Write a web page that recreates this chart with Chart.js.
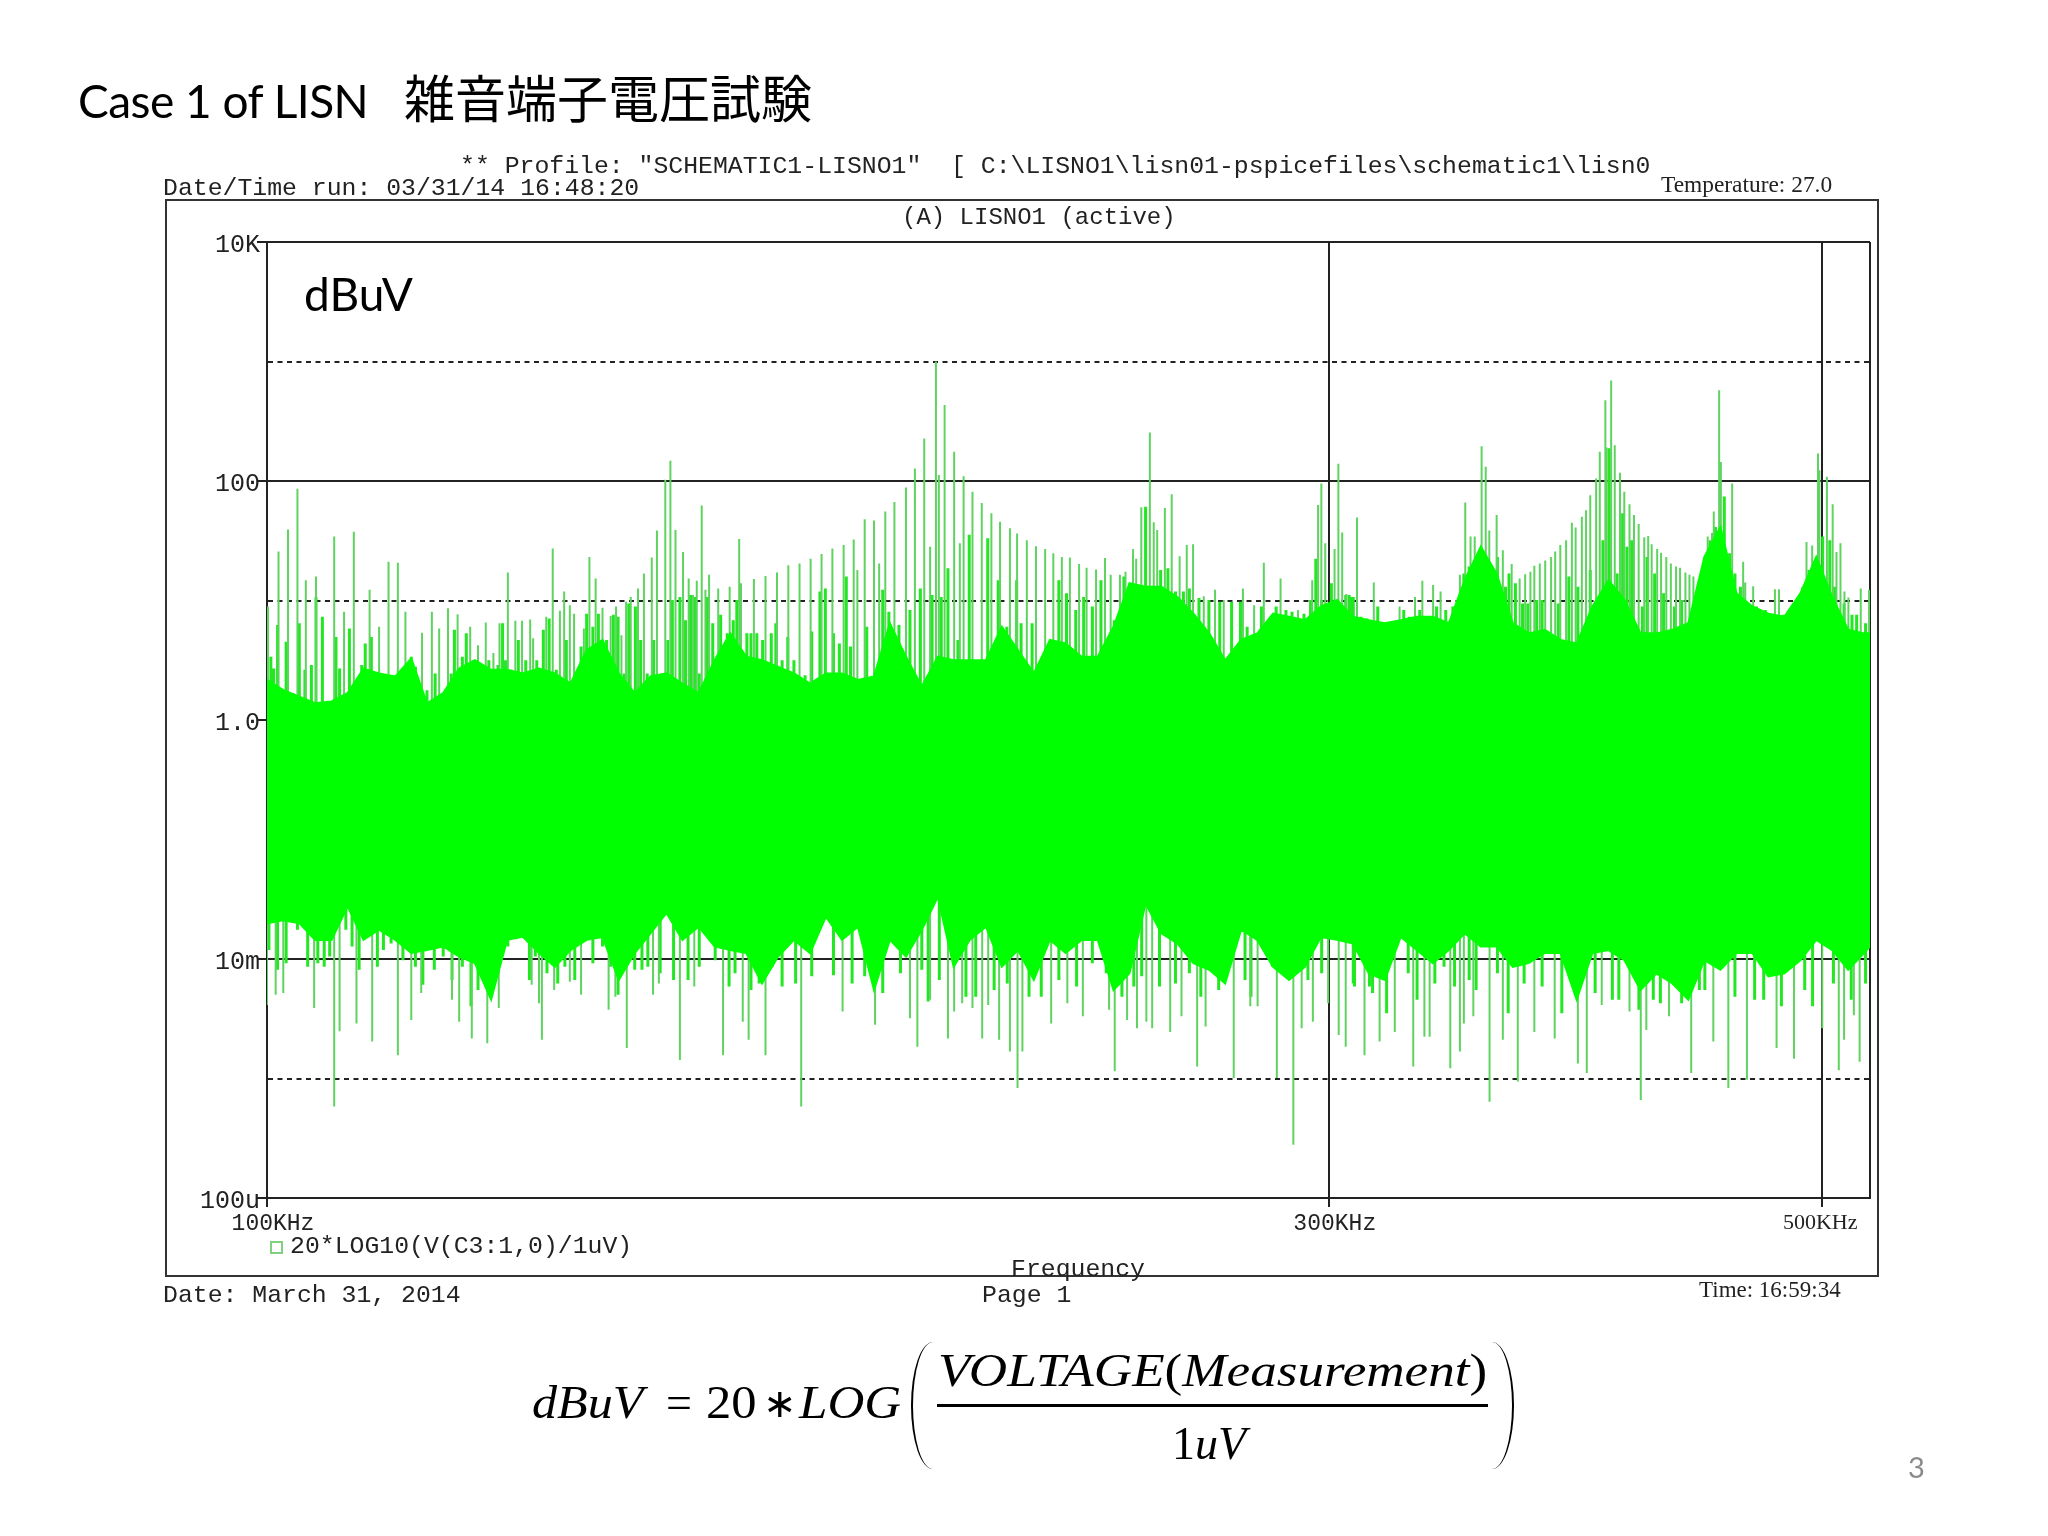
<!DOCTYPE html>
<html>
<head>
<meta charset="utf-8">
<title>Case 1 of LISN</title>
<script src="https://cdn.jsdelivr.net/npm/chart.js@4"></script>
<style>
  html, body { margin: 0; background: #fff; }
  #page { position: relative; width: 2048px; height: 1536px; overflow: hidden; }
  canvas { position: absolute; left: 0; top: 0; }
  .t { position: absolute; white-space: pre; transform: translateY(-50%); color: #222; line-height: 1; }
  .mono { font: 24.8px "Liberation Mono", monospace; }
  .serif { font: 23.4px "Liberation Serif", serif; }
  .slide { font-family: Lato, sans-serif; color: #000; }
  .math { font: italic 46px "Liberation Serif", serif; color: #000; transform-origin: left center; }
  .up { font-style: normal; }
  #box { position: absolute; left: 165px; top: 199px; width: 1714px; height: 1078px; border: 2px solid #333; box-sizing: border-box; }
  #key { position: absolute; left: 270px; top: 1241px; width: 9px; height: 9px; border: 2px solid #7fd07f; }
  #rule { position: absolute; left: 937px; top: 1404px; width: 551px; height: 3px; background: #000; }
  .paren { position: absolute; top: 1342px; width: 44px; height: 127px; border-radius: 50%; box-sizing: border-box; }
</style>
</head>
<body>
<div id="page">
  <div id="box"></div>
  <canvas id="lisnChart" width="2048" height="1536"></canvas>

  <div class="t slide" style="left:78px;top:101px;font-size:46px;letter-spacing:-0.5px">Case 1 of LISN</div>
  <div class="t" style="left:404px;top:96px;font:51px 'Noto Sans CJK JP';color:#000">雑音端子電圧試験</div>

  <div class="t mono" style="left:460px;top:166px">** Profile: "SCHEMATIC1-LISNO1"  [ C:\LISNO1\lisn01-pspicefiles\schematic1\lisn0</div>
  <div class="t mono" style="left:163px;top:188px">Date/Time run: 03/31/14 16:48:20</div>
  <div class="t serif" style="left:1661px;top:184px">Temperature: 27.0</div>
  <div class="t mono" style="left:902px;top:217px;font-size:24px">(A) LISNO1 (active)</div>
  <div class="t slide" style="left:304px;top:294px;font-size:46px">dBuV</div>

  <div id="key"></div>
  <div class="t mono" style="left:290px;top:1246px">20*LOG10(V(C3:1,0)/1uV)</div>
  <div class="t mono" style="left:1011px;top:1269px">Frequency</div>
  <div class="t mono" style="left:163px;top:1295px">Date: March 31, 2014</div>
  <div class="t mono" style="left:982px;top:1295px">Page 1</div>
  <div class="t serif" style="left:1699px;top:1290px;font-size:23px">Time: 16:59:34</div>

  <div class="t math" style="left:532px;top:1402px;transform:translateY(-50%) scaleX(1.09)">dBuV</div>
  <div class="t math up" style="left:666px;top:1402px">=</div>
  <div class="t math up" style="left:706px;top:1402px;transform:translateY(-50%) scaleX(1.1)">20</div>
  <div class="t math up" style="left:763px;top:1403px;font-size:40px">∗</div>
  <div class="t math" style="left:799px;top:1402px;transform:translateY(-50%) scaleX(1.11)">LOG</div>
  <div class="paren" style="left:911px;border-left:2px solid #000"></div>
  <div class="t math" style="left:938px;top:1370px;transform:translateY(-50%) scaleX(1.155)">VOLTAGE<span class="up">(</span>Measurement<span class="up">)</span></div>
  <div id="rule"></div>
  <div class="t math" style="left:1172px;top:1443px"><span class="up">1</span>uV</div>
  <div class="paren" style="left:1470px;border-right:2px solid #000"></div>

  <div class="t slide" style="left:1908px;top:1466px;font-size:29px;color:#8a8a8a">3</div>
</div>

<script>
// axis ticks
const yTickValues = [1e-4, 1e-3, 1e-2, 1e-1, 1, 10, 100, 1000, 10000];
const yTickLabels = ['100u', '', '10m', '', '1.0', '', '100', '', '10K'];
const xTickValues = [100, 300, 500, 525.2];
const xTickLabels = ['100KHz', '300KHz', '500KHz   ', ''];

// solid band of the trace, kHz and dB relative to the 1.0 line
const bandFreq = [
  100, 101.7, 103.4, 105.1, 106.9, 108.7, 110.5, 112.3, 114.2, 116.1, 118.0, 120.0, 122.0, 124.0, 126.1, 128.2, 130.3,
  132.5, 134.7, 136.9, 139.2, 141.5, 143.9, 146.3, 148.7, 151.2, 153.7, 156.3, 158.9, 161.5, 164.2, 166.9, 169.7,
  172.5, 175.4, 178.3, 181.3, 184.3, 187.4, 190.5, 193.7, 196.9, 200.2, 203.5, 206.9, 210.4, 213.9, 217.5, 221.1,
  224.8, 228.5, 232.3, 236.2, 240.1, 244.1, 248.2, 252.3, 256.5, 260.8, 265.1, 269.5, 274.0, 278.6, 283.2, 287.9,
  292.7, 297.6, 302.6, 307.6, 312.7, 317.9, 323.2, 328.6, 334.1, 339.7, 345.3, 351.1, 356.9, 362.9, 368.9, 375.1,
  381.3, 387.7, 394.1, 400.7, 407.4, 414.2, 421.1, 428.1, 435.2, 442.5, 449.9, 457.4, 465.0, 472.8, 480.7, 488.7,
  496.8, 505.1, 513.5, 522.0, 525.2
];
const bandTopDb = [
  6.7, 5.0, 3.9, 2.8, 3.1, 4.5, 8.6, 7.8, 7.3, 10.3, 2.8, 4.5, 8.6, 10.0, 8.4, 8.4, 7.8,
  8.6, 7.8, 6.1, 11.7, 13.4, 7.8, 4.5, 7.3, 7.8, 6.1, 4.5, 10.0, 14.5, 10.6, 10.0, 8.9,
  7.8, 6.1, 7.8, 7.8, 6.7, 7.3, 16.2, 10.6, 5.6, 10.6, 10.0, 10.0, 10.0, 15.6, 11.7, 7.8,
  13.4, 12.8, 10.6, 10.6, 15.6, 22.9, 22.3, 22.3, 20.6, 17.8, 14.5, 10.0, 13.4, 14.5, 17.8, 17.3,
  16.7, 19.0, 20.1, 17.3, 16.7, 16.2, 16.7, 17.3, 17.3, 16.2, 23.4, 29.0, 24.5, 16.2, 14.5, 15.1,
  13.4, 12.8, 19.0, 23.4, 20.1, 14.5, 14.5, 15.1, 16.2, 27.3, 32.3, 21.2, 19.0, 17.8, 17.3, 21.2,
  27.3, 20.6, 15.1, 14.5, 14.5
];
const bandBottomDb = [
  -34.0, -33.5, -34.0, -36.8, -36.8, -31.2, -36.8, -35.1, -36.8, -39.0, -38.5, -37.9, -39.6, -40.7, -46.8, -36.8, -36.3,
  -39.0, -41.3, -38.5, -36.8, -36.3, -43.5, -39.0, -35.7, -32.3, -36.8, -34.6, -37.9, -38.5, -39.0, -44.1, -39.6,
  -36.8, -39.0, -32.9, -36.8, -34.6, -45.2, -36.8, -39.6, -35.1, -29.6, -41.3, -36.8, -34.6, -41.3, -38.5, -43.5,
  -36.8, -39.0, -36.8, -36.8, -45.2, -42.4, -30.7, -35.7, -37.4, -40.7, -41.8, -44.1, -35.1, -36.8, -41.3, -43.5,
  -41.3, -36.3, -36.8, -37.4, -42.4, -43.5, -36.3, -38.5, -40.7, -38.5, -35.7, -37.9, -37.9, -41.3, -40.7, -39.0,
  -39.0, -46.8, -39.0, -38.5, -40.2, -45.2, -42.4, -44.1, -46.8, -40.2, -41.8, -39.0, -39.0, -42.9, -42.4, -40.2,
  -36.8, -38.5, -41.8, -39.0, -37.9
];

// single harmonics sticking out above the band
const peakFreq = [
  100.1, 101.2, 102.2, 103.2, 104.1, 105.2, 107.2, 108.3, 109.4, 111.2, 112.3, 113.4, 114.5, 115.4, 117.4, 118.6,
  119.5, 120.6, 121.8, 123.4, 124.4, 125.4, 126.4, 127.2, 128.3, 129.3, 130.2, 131.3, 131.7, 133.5, 134.4, 135.4,
  136.0, 136.8, 137.4, 138.8, 139.6, 140.5, 141.5, 142.7, 143.5, 144.3, 145.0, 145.7, 146.8, 147.7, 148.9, 149.7,
  151.0, 151.8, 152.6, 153.8, 154.7, 155.4, 156.0, 156.8, 157.4, 158.0, 159.5, 161.4, 163.0, 163.3, 165.5,
  167.5, 169.5, 171.5, 173.5, 175.5, 177.5, 179.5, 181.6, 183.5, 184.2, 185.6, 187.4, 188.4, 189.6, 191.4, 193.7,
  195.5, 197.4, 198.6, 199.8, 200.4, 201.6, 203.6, 204.8, 205.6, 207.5, 209.5, 211.6, 213.5, 215.7, 217.3, 219.5,
  221.6, 223.7, 225.6, 227.6, 229.5, 231.7, 233.5, 235.8, 238.0, 239.4, 241.7, 243.1, 245.0, 245.8, 247.1, 249.3,
  250.3, 251.2, 253.2, 255.0, 257.1, 259.0, 260.7, 263.6, 266.7, 269.1, 274.5, 277.7, 280.5, 285.4, 290.6, 294.9,
  296.7, 297.7, 298.9, 301.8, 303.0, 304.2, 305.5, 308.9, 314.3,
  322.8, 328.0, 330.5, 334.2, 336.8, 343.6, 345.5, 347.4, 348.9, 351.4, 352.9, 354.2, 356.9, 359.2, 362.5, 365.5,
  367.6, 369.6, 371.1, 373.2, 375.3, 377.6, 379.2, 381.2, 383.5, 385.8, 387.3, 389.8, 391.5, 393.2, 395.6, 397.1,
  399.4, 399.9, 401.8, 403.3, 405.5, 407.3, 409.5, 411.4, 413.4, 415.8, 417.5, 419.0, 421.4, 423.1, 425.4, 427.4,
  429.7, 431.5, 433.9, 435.7, 437.5, 439.9, 444.0, 446.0, 446.8, 449.3, 450.1, 455.4, 460.6, 461.6, 465.4, 476.0,
  478.0, 491.8, 494.7, 497.7, 498.4, 502.3, 505.3, 507.3, 509.4, 511.5, 513.6, 520.2, 524.7
];
const peakDb = [
  19.0, 28.2, 31.9, 38.7, 23.4, 24.0, 30.7, 18.1, 31.5, 21.8, 15.6, 26.5, 26.3, 18.1, 14.6, 18.1,
  15.3, 18.7, 17.7, 15.6, 12.5, 16.3, 11.2, 16.2, 24.7, 16.6, 16.6, 16.8, 13.7, 17.3, 28.7, 18.3,
  21.5, 19.2, 17.8, 15.3, 27.3, 23.7, 18.8, 17.4, 19.0, 14.2, 19.8, 20.6, 22.0, 24.5, 27.2, 31.7,
  40.2, 43.4, 31.8, 28.1, 23.7, 20.9, 23.3, 35.9, 21.8, 24.3, 22.0, 22.3, 30.3, 22.9, 23.6,
  24.1, 24.7, 25.9, 26.2, 27.0, 27.8, 28.7, 29.3, 30.2, 25.1, 33.6, 33.4, 26.2, 34.9, 36.5, 38.9,
  42.1, 47.1, 29.0, 60.0, 41.0, 52.7, 44.9, 29.6, 40.8, 38.2, 36.3, 34.6, 33.2, 32.1, 31.2, 30.1,
  29.1, 28.6, 27.9, 27.3, 27.2, 26.1, 25.5, 25.2, 27.1, 24.3, 24.3, 24.8, 28.6, 27.0, 35.6, 48.1,
  33.1, 31.8, 35.5, 37.8, 27.4, 29.3, 29.4, 20.7, 21.8, 20.1, 22.0, 19.2, 26.3, 23.7, 18.4, 23.4,
  36.0, 39.6, 29.6, 28.6, 42.9, 31.4, 21.1, 33.9, 23.0,
  19.0, 20.6, 23.3, 22.6, 21.5, 24.3, 36.4, 30.7, 30.7, 45.8, 42.4, 31.7, 34.3, 28.4, 26.1, 23.7,
  24.4, 24.8, 25.8, 26.2, 26.7, 27.3, 28.2, 29.3, 30.1, 33.0, 32.2, 34.0, 35.1, 37.6, 40.4, 44.9,
  53.5, 45.6, 56.8, 46.0, 41.4, 38.2, 36.1, 34.3, 32.8, 30.6, 30.8, 29.4, 28.6, 28.0, 27.3, 26.2,
  25.7, 25.5, 24.7, 24.3, 24.0, 23.3, 30.7, 31.3, 34.9, 55.2, 43.2, 39.6, 26.5, 23.0, 22.4, 21.9,
  21.9, 29.8, 29.2, 44.6, 41.8, 40.7, 36.1, 28.1, 29.6, 21.5, 20.5, 22.0, 21.8
];

// lower, denser strokes along the top edge of the band
const ridgeFreq = [
  100.4, 100.7, 101.1, 102.0, 102.7, 103.4, 104.0, 104.7, 105.2, 105.9, 106.6, 107.4, 107.8, 108.9, 109.6, 110.3,
  110.7, 111.4, 111.9, 112.8, 113.8, 115.0, 116.1, 116.6, 118.0, 119.0, 120.2, 121.0, 121.4, 122.4, 122.9, 123.8,
  124.8, 125.8, 127.0, 127.6, 128.0, 128.8, 129.7, 130.7, 132.2, 133.1, 133.9, 134.9, 136.3, 138.0, 138.4, 139.2,
  140.1, 140.9, 142.1, 143.1, 143.8, 144.7, 145.4, 146.4, 147.2, 148.2, 149.2, 150.5, 151.4, 152.1, 153.3, 154.2,
  155.0, 155.8, 156.4, 157.7, 158.6, 159.9, 161.0, 162.0, 162.6, 164.3, 165.0, 166.0, 167.0,
  168.5, 169.3, 170.4, 171.4, 172.5, 174.5, 175.7, 177.2, 178.2, 179.7, 180.8, 182.1, 182.9, 184.9, 186.0, 189.1,
  190.3, 192.3, 194.5, 196.6, 199.0, 200.9, 202.3, 204.4, 206.8, 210.8, 213.1, 215.0, 217.2, 218.2, 220.7, 225.0,
  226.9, 228.7, 230.9, 232.8, 234.9, 237.0, 240.3, 242.7, 244.2, 248.2, 252.1, 254.0, 256.0, 258.1, 259.7, 262.3,
  265.0, 268.0, 271.3, 273.8, 275.7, 279.8, 282.4, 284.1, 287.0, 288.8, 292.4, 294.4, 296.0, 297.8, 300.8, 306.4,
  307.7, 310.2, 312.1,
  305.3, 307.0, 312.1, 315.6, 317.6, 319.7, 321.5, 324.2, 326.0, 329.6, 332.4, 335.4, 338.6, 341.1, 345.0, 346.9,
  350.0, 355.2, 357.2, 360.2, 361.5, 363.9, 366.6, 368.6, 372.0, 374.1, 380.4, 384.6, 388.2, 393.2, 398.4, 400.9,
  404.3, 406.6, 408.4, 410.4, 415.0, 417.0, 420.3, 424.2, 429.0, 432.2, 441.4, 442.6, 445.1, 447.6, 451.7, 454.2,
  456.7, 459.3, 462.7, 467.0, 471.3, 475.2, 480.1, 484.0, 487.3, 490.0, 493.1, 500.1, 503.8, 506.3, 511.3, 515.5,
  518.0, 522.8
];
const ridgeDb = [
  10.6, 8.6, 15.9, 13.1, 4.5, 16.2, 8.4, 9.2, 20.6, 17.3, 2.8, 13.9, 8.6, 15.3, 5.0, 9.2,
  12.8, 13.9, 3.9, 5.3, 7.3, 7.8, 10.6, 8.9, 5.0, 7.8, 3.9, 7.8, 15.1, 10.6, 14.5, 10.0,
  9.2, 10.0, 9.2, 16.2, 10.0, 8.4, 13.4, 10.0, 10.0, 15.1, 17.0, 8.4, 13.4, 7.8, 12.3, 17.8,
  15.6, 17.8, 13.4, 17.6, 17.3, 7.8, 19.5, 19.0, 13.4, 7.8, 13.4, 7.8, 13.4, 20.1, 20.6, 16.7,
  20.9, 20.6, 7.8, 20.6, 16.2, 17.6, 14.5, 16.7, 20.1, 14.5, 14.5, 14.5, 13.4,
  14.5, 16.2, 10.0, 13.9, 10.0, 7.5, 14.8, 21.5, 22.0, 14.5, 12.8, 24.0, 12.3, 6.7, 15.6, 21.8,
  18.1, 15.9, 18.4, 22.0, 20.9, 20.6, 25.4, 13.4, 31.0, 30.4, 23.4, 15.6, 23.4, 16.2, 16.2, 13.4,
  23.4, 21.2, 18.4, 20.6, 19.0, 23.4, 16.7, 24.0, 22.9, 35.7, 25.1, 25.4, 21.5, 21.5, 22.0, 20.4,
  20.1, 19.8, 19.8, 19.8, 15.6, 19.0, 17.3, 19.0, 18.4, 18.1, 17.8, 20.1, 27.0, 20.1, 22.9, 20.9,
  20.6, 17.3, 17.0,
  20.9, 20.6, 16.7, 19.0, 16.2, 16.2, 16.2, 18.4, 17.3, 18.4, 16.7, 19.0, 18.4, 19.0, 24.5, 25.7,
  27.3, 25.1, 27.3, 22.3, 24.5, 22.9, 19.5, 19.5, 20.1, 20.1, 19.5, 24.0, 22.3, 25.1, 30.1, 45.5,
  24.5, 34.6, 29.0, 30.1, 19.0, 27.3, 24.5, 21.2, 19.0, 20.1, 24.5, 27.3, 30.1, 32.3, 37.4, 27.9,
  24.5, 22.3, 19.5, 19.0, 18.4, 17.3, 17.6, 18.1, 19.2, 22.3, 25.1, 30.7, 30.1, 22.3, 19.5, 17.6,
  17.6, 16.2
];

// single deep notches below the band
const notchFreq = [
  100.0, 100.9, 101.7, 105.0, 107.2, 107.8, 109.7, 111.5, 114.5, 116.1, 117.3, 121.1, 122.0, 123.6, 125.6, 127.1,
  131.5, 132.5, 132.9, 134.6, 136.8, 138.4, 142.4, 143.4, 145.1, 149.1, 150.0, 153.3, 155.6, 160.3, 163.6, 164.6, 167.5,
  173.8, 181.4, 187.6, 194.5, 196.0, 198.6, 202.3, 203.6, 205.3, 207.5, 209.6, 210.9, 213.3, 215.7, 217.4, 218.5,
  225.1, 228.9, 232.6, 239.0, 240.4, 243.5, 246.0, 248.4, 249.9, 254.6, 257.6, 261.8, 264.1, 271.9, 276.6, 278.7,
  284.3, 289.2, 291.7, 295.1, 299.8, 303.1, 305.3, 311.3, 316.2, 321.2, 327.4, 331.2, 333.0, 340.2, 343.6, 345.0,
  348.4, 354.3, 359.2, 364.8, 371.1, 379.0, 388.2, 391.8, 397.9, 409.5, 414.3, 416.7, 426.6, 436.5, 446.6, 453.6,
  462.4, 476.8, 485.5, 499.9, 508.5, 511.3, 516.5, 519.6
];
const notchDb = [
  -47.7, -46.0, -45.7, -48.2, -64.7, -52.1, -50.8, -53.8, -56.1, -50.2, -45.7, -46.8, -50.5, -53.3, -54.1, -48.2,
  -44.3, -47.4, -53.5, -45.2, -43.8, -46.0, -48.5, -46.3, -54.9, -46.0, -44.1, -56.9, -44.6, -56.1, -50.5, -53.5, -56.1,
  -64.7, -48.8, -51.0, -49.9, -54.7, -46.8, -53.3, -48.8, -47.4, -48.2, -53.3, -47.7, -53.5, -55.5, -61.6, -55.5,
  -50.8, -47.4, -49.6, -48.5, -58.8, -50.2, -51.6, -50.5, -51.6, -52.2, -49.6, -58.0, -51.3, -59.9, -47.9, -47.9,
  -59.9, -71.1, -51.6, -50.5, -47.4, -52.7, -54.7, -56.1, -53.8, -52.2, -58.0, -53.0, -53.0, -58.3, -55.5, -50.8,
  -49.6, -63.9, -53.5, -60.5, -52.2, -53.3, -57.5, -59.1, -47.7, -48.8, -63.6, -51.9, -49.6, -59.1, -53.8, -61.6,
  -60.2, -54.9, -56.7, -51.6, -58.6, -53.5, -49.4, -57.2
];

// shorter strokes along the bottom edge of the band
const fringeFreq = [
  100.2, 101.1, 102.0, 103.2, 104.3, 105.4, 106.1, 106.7, 108.5, 109.2, 110.0, 110.7, 112.1, 112.8, 113.7, 115.1,
  116.6, 117.5, 118.9, 120.0, 121.1, 122.4, 123.5, 124.4, 126.5, 128.3, 131.2, 132.0, 133.6, 135.1, 136.1, 137.5,
  140.1, 141.5, 142.7, 143.8, 146.3, 147.4, 148.3, 150.2, 152.3, 154.6, 156.4, 159.0, 161.3, 162.3, 165.0, 166.4,
  168.7, 170.4, 172.8, 175.7, 179.7, 183.2, 185.6, 189.1, 192.6, 196.9, 198.2, 200.5, 206.1, 208.2, 212.2, 215.1,
  220.0, 222.8, 226.9, 231.1, 234.9, 238.3, 242.2, 245.2, 247.2, 251.8, 256.0, 259.7, 262.8, 267.7, 275.1, 276.8,
  283.0, 287.0, 293.6, 297.8, 307.7, 312.9,
  308.1, 313.9, 318.5, 325.7, 328.7, 334.8, 338.0, 341.7, 346.9, 349.4, 357.2, 361.2, 367.2, 374.1, 381.8, 386.1,
  395.2, 402.3, 405.0, 413.5, 419.7, 422.8, 432.2, 440.2, 442.7, 456.7, 466.1, 470.5, 479.2, 490.9, 494.9, 505.7,
  515.1, 522.8
];
const fringeDb = [
  -38.5, -41.8, -40.7, -35.1, -41.3, -40.7, -41.3, -39.6, -35.1, -37.9, -41.8, -36.3, -41.3, -38.5, -37.4, -40.2,
  -41.3, -44.3, -41.8, -39.6, -43.5, -41.3, -47.9, -45.2, -43.5, -37.9, -43.5, -39.6, -42.4, -44.1, -41.3, -43.5,
  -40.7, -37.9, -41.3, -46.0, -41.8, -41.8, -41.3, -42.4, -43.5, -43.5, -41.3, -40.2, -44.6, -42.4, -45.2, -44.1,
  -41.3, -44.6, -44.1, -42.9, -42.7, -44.1, -42.9, -45.7, -42.4, -41.8, -47.1, -43.5, -46.3, -46.3, -45.2, -44.1,
  -46.3, -46.3, -43.5, -44.6, -40.7, -42.4, -46.3, -44.6, -42.9, -44.6, -44.1, -42.4, -46.3, -45.2, -43.5, -46.3,
  -41.3, -41.8, -43.5, -42.4, -44.1, -44.6,
  -44.6, -45.7, -49.1, -42.4, -46.8, -44.1, -41.3, -44.6, -43.5, -45.2, -42.4, -49.1, -44.1, -44.6, -49.1, -41.8,
  -45.7, -46.8, -46.8, -48.5, -46.8, -47.4, -47.4, -45.2, -45.2, -46.3, -46.8, -46.8, -47.9, -45.2, -47.9, -44.1,
  -46.8, -44.1
];

const dbToValue = db => Math.pow(10, db / 20);

function spikeLine(freqs, dbs) {
  const pts = [];
  freqs.forEach((f, i) => {
    pts.push({ x: f, y: 1 }, { x: f, y: dbToValue(dbs[i]) }, { x: f, y: null });
  });
  return pts;
}

function spikeSet(freqs, dbs, color, width) {
  return { data: spikeLine(freqs, dbs), borderColor: color, borderWidth: width, pointRadius: 0, fill: false, order: 1 };
}

const isLabelled = v => yTickLabels[yTickValues.indexOf(v)] !== '';

new Chart(document.getElementById('lisnChart'), {
  type: 'line',
  data: {
    datasets: [
      {
        data: bandFreq.map((f, i) => ({ x: f, y: dbToValue(bandTopDb[i]) })),
        borderColor: '#00ff00', borderWidth: 2, backgroundColor: '#00ff00',
        pointRadius: 0, fill: '+1', order: 0
      },
      {
        data: bandFreq.map((f, i) => ({ x: f, y: dbToValue(bandBottomDb[i]) })),
        borderColor: '#00ff00', borderWidth: 2,
        pointRadius: 0, fill: false, order: 0
      },
      spikeSet(peakFreq, peakDb, '#5fd35f', 2),
      spikeSet(notchFreq, notchDb, '#5fd35f', 2),
      spikeSet(ridgeFreq, ridgeDb, '#22e822', 3),
      spikeSet(fringeFreq, fringeDb, '#22e822', 3)
    ]
  },
  options: {
    responsive: false,
    animation: false,
    layout: { padding: { left: 187, right: 178, top: 242, bottom: 278 } },
    plugins: { legend: { display: false }, tooltip: { enabled: false } },
    scales: {
      x: {
        type: 'logarithmic',
        min: 100,
        max: 525.2,
        afterBuildTicks: s => { s.ticks = xTickValues.map(v => ({ value: v })); },
        afterFit: s => { s.height = 60; },
        grid: {
          color: '#222', lineWidth: 2, tickLength: 9,
          tickColor: c => (c.tick && c.tick.value === 525.2 ? 'transparent' : '#222')
        },
        border: { color: '#222', width: 2 },
        ticks: {
          autoSkip: false, maxRotation: 0, minRotation: 0, padding: 3, labelOffset: 6, color: '#222',
          font: c => (c.tick && c.tick.value === 500
            ? { family: 'Liberation Serif', size: 22 }
            : { family: 'Liberation Mono', size: 23 }),
          callback: v => xTickLabels[xTickValues.indexOf(v)]
        }
      },
      y: {
        type: 'logarithmic',
        min: 1e-4,
        max: 1e4,
        afterBuildTicks: s => { s.ticks = yTickValues.map(v => ({ value: v })); },
        afterFit: s => { s.width = 80; },
        grid: {
          color: '#222', lineWidth: 2, tickLength: 10,
          tickColor: c => (c.tick && isLabelled(c.tick.value) ? '#222' : 'transparent')
        },
        border: {
          color: '#222', width: 2,
          dash: c => (c.tick && !isLabelled(c.tick.value) ? [5, 4.5] : [])
        },
        ticks: {
          autoSkip: false, padding: -3, labelOffset: 3, color: '#222',
          font: { family: 'Liberation Mono', size: 25 },
          callback: v => yTickLabels[yTickValues.indexOf(v)]
        }
      }
    }
  }
});
</script>
</body>
</html>
